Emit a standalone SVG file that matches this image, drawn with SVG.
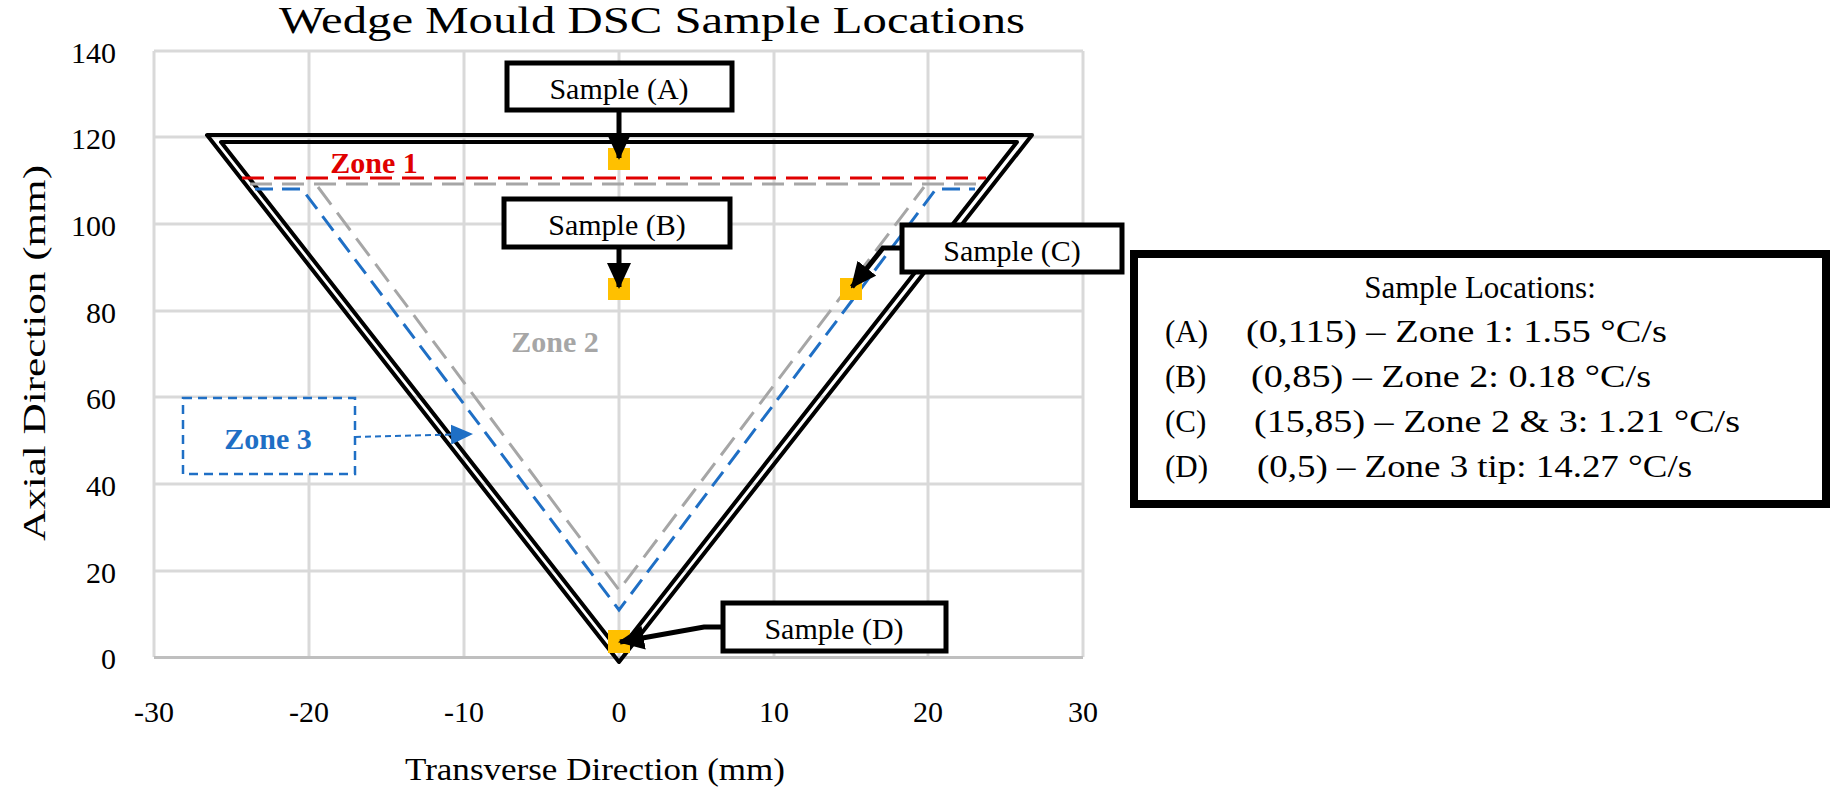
<svg xmlns="http://www.w3.org/2000/svg" width="1840" height="790" viewBox="0 0 1840 790">
<style>
text{font-family:"Liberation Serif","Times New Roman",serif;fill:#000}
.grid{stroke:#d9d9d9;stroke-width:3;fill:none}
.tick{font-size:30px}
.box{fill:#fff;stroke:#000;stroke-width:5}
.lbl{font-size:30px;text-anchor:middle}
.smp{fill:#ffc000}
.conn{stroke:#000;stroke-width:5;fill:none}
</style>
<defs>
<marker id="ah" markerUnits="userSpaceOnUse" markerWidth="26" markerHeight="24" refX="24" refY="12" orient="auto"><path d="M0,0 L26,12 L0,24 Z" fill="#000"/></marker>
<marker id="bh" markerUnits="userSpaceOnUse" markerWidth="22" markerHeight="20" refX="20" refY="10" orient="auto"><path d="M0,0 L22,10 L0,20 Z" fill="#1f6fc5"/></marker>
</defs>
<rect width="1840" height="790" fill="#fff"/>
<text x="652" y="33" font-size="38" text-anchor="middle" textLength="746" lengthAdjust="spacingAndGlyphs">Wedge Mould DSC Sample Locations</text>
<g id="grid">
<path class="grid" d="M154,51V657M309,51V657M464,51V657M619,51V657M774,51V657M928,51V657M1083,51V657"/>
<path class="grid" d="M154,51H1083M154,137H1083M154,224H1083M154,311H1083M154,397H1083M154,484H1083M154,571H1083"/>
<path d="M154,657.5H1083" stroke="#bfbfbf" stroke-width="3"/>
</g>
<g id="axes" class="tick">
<text x="116" y="63" text-anchor="end">140</text>
<text x="116" y="149" text-anchor="end">120</text>
<text x="116" y="236" text-anchor="end">100</text>
<text x="116" y="323" text-anchor="end">80</text>
<text x="116" y="409" text-anchor="end">60</text>
<text x="116" y="496" text-anchor="end">40</text>
<text x="116" y="583" text-anchor="end">20</text>
<text x="116" y="669" text-anchor="end">0</text>
<text x="154" y="722" text-anchor="middle">-30</text>
<text x="309" y="722" text-anchor="middle">-20</text>
<text x="464" y="722" text-anchor="middle">-10</text>
<text x="619" y="722" text-anchor="middle">0</text>
<text x="774" y="722" text-anchor="middle">10</text>
<text x="928" y="722" text-anchor="middle">20</text>
<text x="1083" y="722" text-anchor="middle">30</text>
<text x="595" y="780" font-size="32" text-anchor="middle" textLength="380" lengthAdjust="spacingAndGlyphs">Transverse Direction (mm)</text>
<text transform="translate(45,353) rotate(-90)" font-size="32" text-anchor="middle" textLength="376" lengthAdjust="spacingAndGlyphs">Axial Direction (mm)</text>
</g>
<g id="wedge" fill="none" stroke="#000" stroke-width="4" stroke-linejoin="round">
<polygon points="207,135 1032,135 619,662"/>
<polygon points="221,142 1017,142 619,651"/>
</g>
<g id="zones" fill="none">
<path d="M242,178H986" stroke="#e00000" stroke-width="3" stroke-dasharray="22,10"/>
<path d="M250,184H982M318,187L619,590L924,187" stroke="#a6a6a6" stroke-width="3" stroke-dasharray="22,10"/>
<path d="M255,189H302L619,610L936,189H975" stroke="#1f6fc5" stroke-width="3" stroke-dasharray="18,9"/>
</g>
<g id="zone1"><text x="374" y="173" font-size="30" font-weight="bold" fill="#e00000" text-anchor="middle" style="fill:#e00000">Zone 1</text></g>
<g id="zone2"><text x="555" y="352" font-size="30" font-weight="bold" text-anchor="middle" style="fill:#a6a6a6">Zone 2</text></g>
<g id="zone3">
<rect x="183" y="398" width="172" height="76" fill="#fff" stroke="#1f6fc5" stroke-width="2.5" stroke-dasharray="9,6"/>
<text x="268" y="449" font-size="30" font-weight="bold" text-anchor="middle" style="fill:#1f6fc5">Zone 3</text>
</g>
<g id="samples">
<rect class="smp" x="608" y="148" width="22" height="22"/>
<rect class="smp" x="608" y="278" width="22" height="22"/>
<rect class="smp" x="840" y="278" width="22" height="22"/>
<rect class="smp" x="608" y="630" width="22" height="23"/>
</g>
<g id="connectors">
<path class="conn" d="M619,110V158" marker-end="url(#ah)"/>
<path class="conn" d="M619,247V287" marker-end="url(#ah)"/>
<path class="conn" d="M902,248H883L852,287" marker-end="url(#ah)"/>
<path class="conn" d="M723,627H704L620,642" marker-end="url(#ah)"/>
<path d="M355,437L471,434" stroke="#1f6fc5" stroke-width="2" stroke-dasharray="6,4" fill="none" marker-end="url(#bh)"/>
</g>
<g id="sampleA"><rect class="box" x="507" y="63" width="225" height="47"/><text class="lbl" x="619" y="99">Sample (A)</text></g>
<g id="sampleB"><rect class="box" x="504" y="199" width="226" height="48"/><text class="lbl" x="617" y="235">Sample (B)</text></g>
<g id="sampleC"><rect class="box" x="902" y="225" width="220" height="47"/><text class="lbl" x="1012" y="261">Sample (C)</text></g>
<g id="sampleD"><rect class="box" x="723" y="603" width="223" height="48"/><text class="lbl" x="834" y="639">Sample (D)</text></g>
<g id="legend">
<rect x="1134" y="254" width="692" height="250" fill="#fff" stroke="#000" stroke-width="8"/>
<text x="1480" y="298" font-size="31" text-anchor="middle">Sample Locations:</text>
<text x="1165" y="342" font-size="31">(A)</text><text x="1246" y="342" font-size="31" textLength="421" lengthAdjust="spacingAndGlyphs">(0,115) – Zone 1: 1.55 °C/s</text>
<text x="1165" y="387" font-size="31">(B)</text><text x="1251" y="387" font-size="31" textLength="400" lengthAdjust="spacingAndGlyphs">(0,85) – Zone 2: 0.18 °C/s</text>
<text x="1165" y="432" font-size="31">(C)</text><text x="1254" y="432" font-size="31" textLength="486" lengthAdjust="spacingAndGlyphs">(15,85) – Zone 2 &amp; 3: 1.21 °C/s</text>
<text x="1165" y="477" font-size="31">(D)</text><text x="1257" y="477" font-size="31" textLength="435" lengthAdjust="spacingAndGlyphs">(0,5) – Zone 3 tip: 14.27 °C/s</text>
</g>
</svg>
